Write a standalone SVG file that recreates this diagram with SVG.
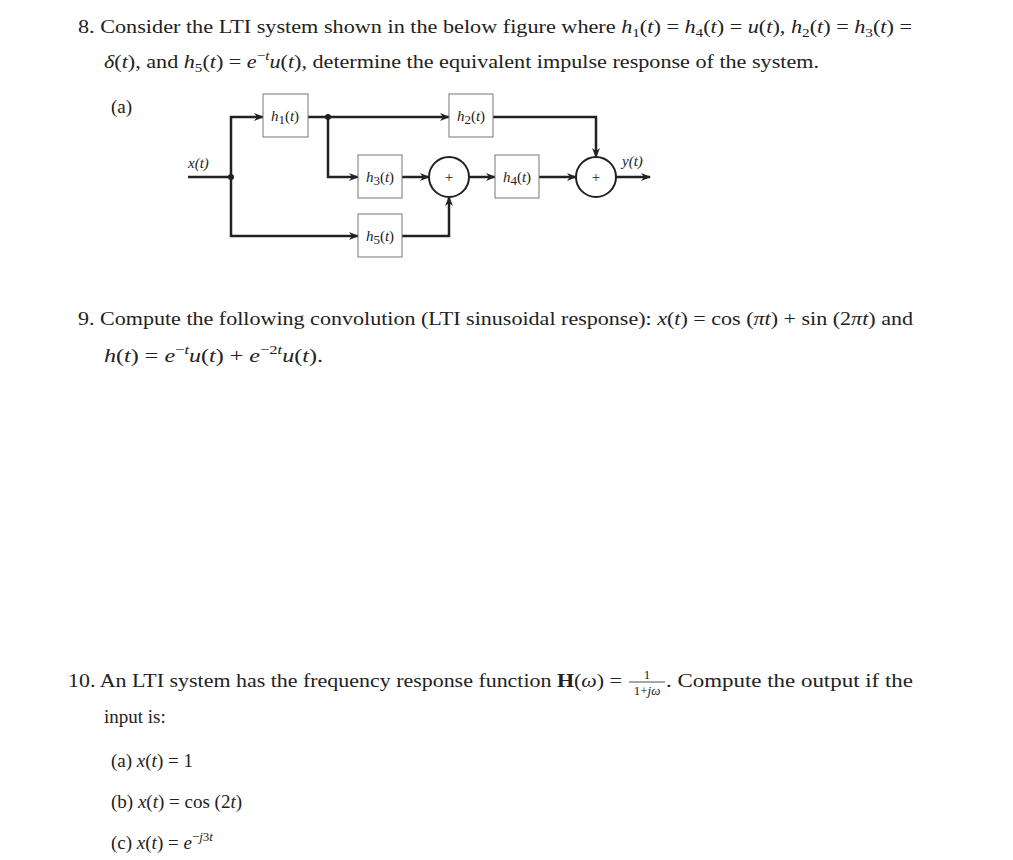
<svg xmlns="http://www.w3.org/2000/svg" width="1013" height="860" viewBox="0 0 1013 860">
<style>
text{font-family:"Liberation Serif","DejaVu Serif",serif;font-size:19px;fill:#222}
.i{font-style:italic}
.s{font-size:13px}
.box{fill:#fff;stroke:#777;stroke-width:1}
.w{fill:none;stroke:#222;stroke-width:2.5}
.c{fill:#fff;stroke:#222;stroke-width:2}
.lb{font-size:15px}
</style>
<defs><marker id="a" markerWidth="10" markerHeight="8" refX="9" refY="4" orient="auto" markerUnits="userSpaceOnUse"><path d="M0,0 L10,4 L0,8 L3,4z" fill="#222"/></marker></defs>
<text x="78" y="33" textLength="834" lengthAdjust="spacingAndGlyphs">8. Consider the LTI system shown in the below figure where <tspan class="i">h</tspan><tspan class="s" dy="4">1</tspan><tspan dy="-4">(</tspan><tspan class="i">t</tspan>) = <tspan class="i">h</tspan><tspan class="s" dy="4">4</tspan><tspan dy="-4">(</tspan><tspan class="i">t</tspan>) = <tspan class="i">u</tspan>(<tspan class="i">t</tspan>), <tspan class="i">h</tspan><tspan class="s" dy="4">2</tspan><tspan dy="-4">(</tspan><tspan class="i">t</tspan>) = <tspan class="i">h</tspan><tspan class="s" dy="4">3</tspan><tspan dy="-4">(</tspan><tspan class="i">t</tspan>) =</text>
<text x="104" y="68" textLength="715" lengthAdjust="spacingAndGlyphs"><tspan class="i">δ</tspan>(<tspan class="i">t</tspan>), and <tspan class="i">h</tspan><tspan class="s" dy="4">5</tspan><tspan dy="-4">(</tspan><tspan class="i">t</tspan>) = <tspan class="i">e</tspan><tspan class="s" dy="-8">−<tspan class="i">t</tspan></tspan><tspan class="i" dy="8">u</tspan>(<tspan class="i">t</tspan>), determine the equivalent impulse response of the system.</text>
<text x="111" y="113">(a)</text>
<g id="connectors">
<path class="w" d="M188,177 H231 V117 H263" marker-end="url(#a)"/>
<path class="w" d="M231,177 V236 H358" marker-end="url(#a)"/>
<path class="w" d="M308,117 H449" marker-end="url(#a)"/>
<path class="w" d="M328,117 V177 H358" marker-end="url(#a)"/>
<path class="w" d="M402,177 H429" marker-end="url(#a)"/>
<path class="w" d="M402,236 H449 V197" marker-end="url(#a)"/>
<path class="w" d="M469,177 H495" marker-end="url(#a)"/>
<path class="w" d="M539,177 H576" marker-end="url(#a)"/>
<path class="w" d="M493,117 H596 V157" marker-end="url(#a)"/>
<path class="w" d="M616,177 H650" marker-end="url(#a)"/>
<circle cx="231" cy="177" r="3" fill="#222"/>
<circle cx="328" cy="117" r="3" fill="#222"/>
</g>
<g id="h1"><rect class="box" x="263" y="94" width="45" height="43"/><text class="lb" x="285" y="121" text-anchor="middle"><tspan class="i">h</tspan><tspan class="s" dy="3">1</tspan><tspan dy="-3">(</tspan><tspan class="i">t</tspan>)</text></g>
<g id="h2"><rect class="box" x="449" y="94" width="44" height="43"/><text class="lb" x="471" y="121" text-anchor="middle"><tspan class="i">h</tspan><tspan class="s" dy="3">2</tspan><tspan dy="-3">(</tspan><tspan class="i">t</tspan>)</text></g>
<g id="h3"><rect class="box" x="358" y="155" width="44" height="43"/><text class="lb" x="380" y="182" text-anchor="middle"><tspan class="i">h</tspan><tspan class="s" dy="3">3</tspan><tspan dy="-3">(</tspan><tspan class="i">t</tspan>)</text></g>
<g id="h4"><rect class="box" x="495" y="155" width="44" height="43"/><text class="lb" x="517" y="182" text-anchor="middle"><tspan class="i">h</tspan><tspan class="s" dy="3">4</tspan><tspan dy="-3">(</tspan><tspan class="i">t</tspan>)</text></g>
<g id="h5"><rect class="box" x="358" y="214" width="44" height="43"/><text class="lb" x="380" y="241" text-anchor="middle"><tspan class="i">h</tspan><tspan class="s" dy="3">5</tspan><tspan dy="-3">(</tspan><tspan class="i">t</tspan>)</text></g>
<g id="sum1"><circle class="c" cx="449" cy="177" r="20"/><text class="lb" x="449" y="182" text-anchor="middle">+</text></g>
<g id="sum2"><circle class="c" cx="596" cy="177" r="20"/><text class="lb" x="596" y="182" text-anchor="middle">+</text></g>
<g id="labels"><text class="lb i" x="188" y="168">x(t)</text><text class="lb i" x="622" y="166">y(t)</text></g>
<text x="78" y="325" textLength="835" lengthAdjust="spacingAndGlyphs">9. Compute the following convolution (LTI sinusoidal response): <tspan class="i">x</tspan>(<tspan class="i">t</tspan>) = cos (<tspan class="i">πt</tspan>) + sin (2<tspan class="i">πt</tspan>) and</text>
<text x="104" y="362" textLength="219" lengthAdjust="spacingAndGlyphs"><tspan class="i">h</tspan>(<tspan class="i">t</tspan>) = <tspan class="i">e</tspan><tspan class="s" dy="-8">−<tspan class="i">t</tspan></tspan><tspan class="i" dy="8">u</tspan>(<tspan class="i">t</tspan>) + <tspan class="i">e</tspan><tspan class="s" dy="-8">−2<tspan class="i">t</tspan></tspan><tspan class="i" dy="8">u</tspan>(<tspan class="i">t</tspan>).</text>
<text x="68" y="687" textLength="554" lengthAdjust="spacingAndGlyphs">10. An LTI system has the frequency response function <tspan font-weight="bold">H</tspan>(<tspan class="i">ω</tspan>) =</text>
<text class="s" x="647" y="679" text-anchor="middle">1</text>
<line x1="629" y1="682" x2="665" y2="682" stroke="#222" stroke-width="0.8"/>
<text class="s" x="647" y="695" text-anchor="middle">1+<tspan class="i">jω</tspan></text>
<text x="666" y="687" textLength="247" lengthAdjust="spacingAndGlyphs">. Compute the output if the</text>
<text x="104" y="723">input is:</text>
<text x="111" y="767">(a)  <tspan class="i">x</tspan>(<tspan class="i">t</tspan>) = 1</text>
<text x="111" y="808">(b)  <tspan class="i">x</tspan>(<tspan class="i">t</tspan>) = cos (2<tspan class="i">t</tspan>)</text>
<text x="111" y="849">(c)  <tspan class="i">x</tspan>(<tspan class="i">t</tspan>) = <tspan class="i">e</tspan><tspan class="s" dy="-8">−<tspan class="i">j</tspan>3<tspan class="i">t</tspan></tspan></text>
</svg>
